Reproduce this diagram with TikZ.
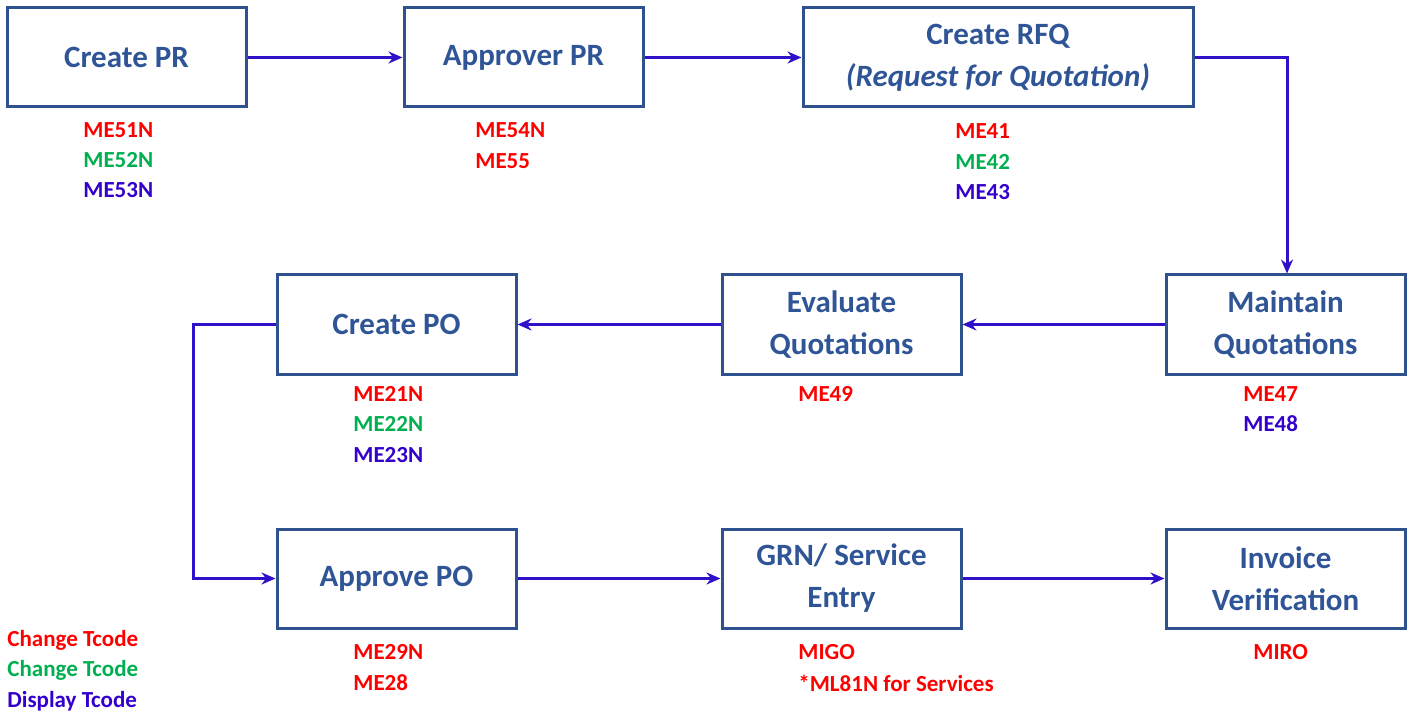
\documentclass[tikz,border=0pt]{standalone}
\usepackage{fontspec}
\setmainfont{Carlito}
\usetikzlibrary{arrows.meta}
\definecolor{bx}{HTML}{2F528F}
\definecolor{tx}{HTML}{2F5597}
\definecolor{ar}{HTML}{3010C8}
\definecolor{rd}{HTML}{FF0000}
\definecolor{gn}{HTML}{00B050}
\definecolor{bl}{HTML}{3300CC}
\begin{document}
\begin{tikzpicture}[x=0.5pt,y=-0.5pt,
 box/.style={draw=bx,line width=1.5pt,minimum width=119.5pt,minimum height=49.5pt,align=center,text=tx,font=\fontsize{15.5}{21}\selectfont\bfseries},
 wbox/.style={box,minimum width=195pt},
 arr/.style={draw=ar,line width=1.5pt,-{Stealth[length=7pt,width=6pt]}},
 tc/.style={anchor=west,font=\fontsize{11.5}{15}\selectfont\bfseries,align=left,inner sep=0pt}]
\useasboundingbox (0,0) rectangle (1417,721);
\node[box] (pr) at (126.5,57.5) {Create PR};
\node[box] (apr) at (523.5,57.5) {Approver PR};
\node[wbox] (rfq) at (998,57.5) {Create RFQ\\\textit{(Request for Quotation)}};
\node[box] (mq) at (1285.5,324.5) {Maintain\\Quotations};
\node[box] (eq) at (841.5,324.5) {Evaluate\\Quotations};
\node[box] (cpo) at (396.5,324.5) {Create PO};
\node[box] (apo) at (396.5,578.5) {Approve PO};
\node[box] (grn) at (841.5,578.5) {GRN/ Service\\Entry};
\node[box] (iv) at (1285.5,578.5) {Invoice\\Verification};
\coordinate (c1) at (1287,57.5);
\coordinate (c2) at (193,324.5);
\coordinate (c3) at (193,578.5);
\draw[arr] (pr) -- (apr);
\draw[arr] (apr) -- (rfq);
\draw[arr] (rfq.east) -- (c1) -- (mq.north -| c1);
\draw[arr] (mq) -- (eq);
\draw[arr] (eq) -- (cpo);
\draw[arr] (cpo.west) -- (c2) -- (c3) -- (apo.west);
\draw[arr] (apo) -- (grn);
\draw[arr] (grn) -- (iv);
\node[tc] (t1) at (83,130) {\color{rd}ME51N};
\node[tc] (t2) at (83,160) {\color{gn}ME52N};
\node[tc] (t3) at (83,190) {\color{bl}ME53N};
\node[tc] (t4) at (475,130) {\color{rd}ME54N};
\node[tc] (t5) at (475,161) {\color{rd}ME55};
\node[tc] (t6) at (955,131) {\color{rd}ME41};
\node[tc] (t7) at (955,162) {\color{gn}ME42};
\node[tc] (t8) at (955,192) {\color{bl}ME43};
\node[tc] (t9) at (353,394) {\color{rd}ME21N};
\node[tc] (t10) at (353,424) {\color{gn}ME22N};
\node[tc] (t11) at (353,455) {\color{bl}ME23N};
\node[tc] (t12) at (798,394) {\color{rd}ME49};
\node[tc] (t13) at (1243,394) {\color{rd}ME47};
\node[tc] (t14) at (1243,424) {\color{bl}ME48};
\node[tc] (t15) at (353,652) {\color{rd}ME29N};
\node[tc] (t16) at (353,683) {\color{rd}ME28};
\node[tc] (t17) at (798,652) {\color{rd}MIGO};
\node[tc] (t18) at (798,683) {\color{rd}*ML81N for Services};
\node[tc] (t19) at (1253,652) {\color{rd}MIRO};
\node[tc] (l1) at (7,640) {\color{rd}Change Tcode};
\node[tc] (l2) at (7,670) {\color{gn}Change Tcode};
\node[tc] (l3) at (7,701) {\color{bl}Display Tcode};
\end{tikzpicture}
\end{document}
